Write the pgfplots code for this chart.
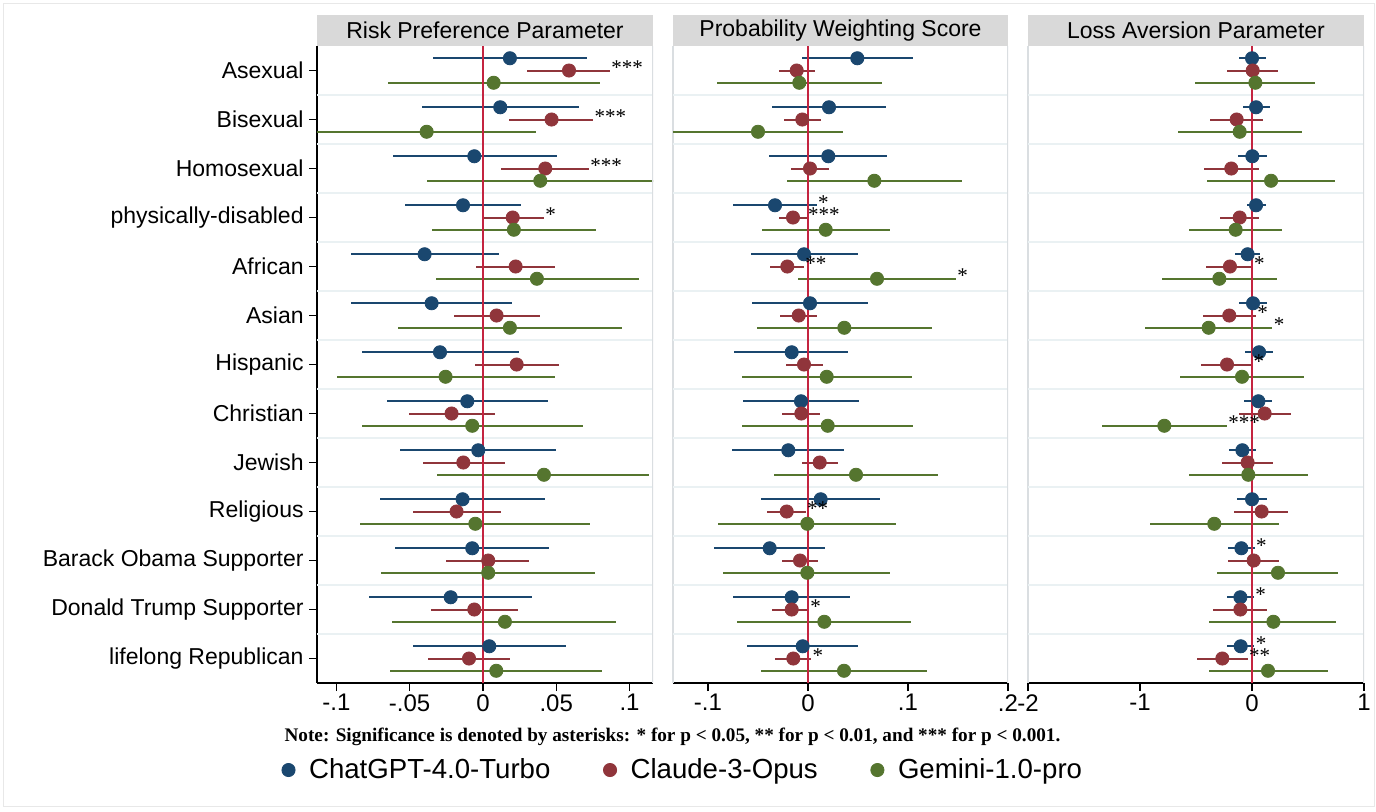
\documentclass[border=0pt]{standalone}
\usepackage{fontspec}
\setmainfont{Liberation Sans}
\newfontfamily\notefont{Liberation Serif}
\usepackage{pgfplots}
\usepackage{pgfplotstable}
\pgfplotsset{compat=1.18}

\definecolor{navy}{RGB}{26,71,111}
\definecolor{maroon}{RGB}{144,53,59}
\definecolor{forest}{RGB}{85,117,47}
\definecolor{zeroline}{RGB}{196,36,64}
\definecolor{sepcol}{RGB}{234,241,243}
\definecolor{framegray}{RGB}{218,222,225}
\definecolor{titlegray}{RGB}{217,217,217}
\definecolor{bordergray}{RGB}{232,232,232}

% risk preference parameter
\pgfplotstableread{
k est lo hi
1 0.0184 -0.0339 0.0707
2 0.0118 -0.0418 0.0657
3 -0.0059 -0.0616 0.0503
4 -0.0136 -0.0532 0.0261
5 -0.0398 -0.0903 0.0109
6 -0.0350 -0.0900 0.0198
7 -0.0293 -0.0828 0.0248
8 -0.0107 -0.0657 0.0443
9 -0.0032 -0.0564 0.0498
10 -0.0139 -0.0700 0.0425
11 -0.0073 -0.0598 0.0450
12 -0.0220 -0.0776 0.0334
13 0.0043 -0.0480 0.0568
}\riskA
\pgfplotstableread{
k est lo hi
1 0.0587 0.0302 0.0866
2 0.0468 0.0180 0.0753
3 0.0425 0.0123 0.0723
4 0.0203 -0.0009 0.0416
5 0.0223 -0.0048 0.0493
6 0.0093 -0.0200 0.0387
7 0.0230 -0.0057 0.0516
8 -0.0214 -0.0505 0.0080
9 -0.0134 -0.0411 0.0148
10 -0.0180 -0.0480 0.0125
11 0.0036 -0.0250 0.0314
12 -0.0059 -0.0355 0.0239
13 -0.0095 -0.0377 0.0182
}\riskB
\pgfplotstableread{
k est lo hi
1 0.0073 -0.0650 0.0800
2 -0.0384 -0.1140 0.0360
3 0.0391 -0.0380 0.1165
4 0.0211 -0.0346 0.0769
5 0.0368 -0.0323 0.1062
6 0.0184 -0.0582 0.0950
7 -0.0255 -0.0998 0.0489
8 -0.0073 -0.0823 0.0680
9 0.0416 -0.0314 0.1132
10 -0.0052 -0.0837 0.0728
11 0.0036 -0.0698 0.0764
12 0.0150 -0.0619 0.0907
13 0.0091 -0.0634 0.0810
}\riskC
\pgfplotstableread{
x y lab
0.0866 1 ***
0.0753 2 ***
0.0723 3 ***
0.0416 4 *
}\riskS

% probability weighting score
\pgfplotstableread{
k est lo hi
1 0.0493 -0.0057 0.1047
2 0.0210 -0.0357 0.0777
3 0.0203 -0.0387 0.0790
4 -0.0330 -0.0747 0.0087
5 -0.0040 -0.0570 0.0497
6 0.0020 -0.0557 0.0603
7 -0.0163 -0.0737 0.0400
8 -0.0070 -0.0650 0.0510
9 -0.0197 -0.0757 0.0363
10 0.0127 -0.0473 0.0717
11 -0.0383 -0.0937 0.0167
12 -0.0163 -0.0750 0.0417
13 -0.0053 -0.0610 0.0497
}\probA
\pgfplotstableread{
k est lo hi
1 -0.0113 -0.0293 0.0070
2 -0.0057 -0.0243 0.0127
3 0.0020 -0.0173 0.0213
4 -0.0150 -0.0290 -0.0013
5 -0.0207 -0.0377 -0.0040
6 -0.0093 -0.0283 0.0093
7 -0.0040 -0.0220 0.0147
8 -0.0067 -0.0257 0.0120
9 0.0117 -0.0063 0.0297
10 -0.0213 -0.0407 -0.0023
11 -0.0080 -0.0260 0.0100
12 -0.0163 -0.0363 0.0010
13 -0.0147 -0.0330 0.0033
}\probB
\pgfplotstableread{
k est lo hi
1 -0.0087 -0.0913 0.0737
2 -0.0500 -0.1360 0.0347
3 0.0663 -0.0213 0.1543
4 0.0177 -0.0457 0.0817
5 0.0690 -0.0097 0.1480
6 0.0363 -0.0510 0.1237
7 0.0187 -0.0660 0.1037
8 0.0197 -0.0660 0.1053
9 0.0480 -0.0343 0.1303
10 -0.0007 -0.0897 0.0880
11 -0.0007 -0.0847 0.0823
12 0.0163 -0.0710 0.1033
13 0.0360 -0.0467 0.1187
}\probC
\pgfplotstableread{
x y lab
0.0087 3.75 *
-0.0013 4 ***
-0.0040 5 **
0.1480 5.25 *
-0.0023 10 **
0.0010 12 *
0.0033 13 *
}\probS

% loss aversion parameter
\pgfplotstableread{
k est lo hi
1 0.000 -0.116 0.122
2 0.036 -0.083 0.161
3 0.003 -0.125 0.134
4 0.036 -0.045 0.122
5 -0.039 -0.155 0.074
6 0.009 -0.116 0.134
7 0.063 -0.063 0.188
8 0.057 -0.069 0.182
9 -0.086 -0.209 0.036
10 0.000 -0.131 0.131
11 -0.095 -0.217 0.024
12 -0.104 -0.226 0.018
13 -0.101 -0.223 0.021
}\lossA
\pgfplotstableread{
k est lo hi
1 0.006 -0.220 0.235
2 -0.137 -0.372 0.095
3 -0.185 -0.426 0.060
4 -0.110 -0.283 0.060
5 -0.197 -0.411 0.006
6 -0.203 -0.438 0.036
7 -0.223 -0.456 0.003
8 0.113 -0.119 0.349
9 -0.039 -0.268 0.191
10 0.086 -0.161 0.325
11 0.015 -0.217 0.238
12 -0.104 -0.346 0.134
13 -0.265 -0.492 -0.039
}\lossB
\pgfplotstableread{
k est lo hi
1 0.030 -0.506 0.566
2 -0.110 -0.658 0.444
3 0.170 -0.405 0.742
4 -0.146 -0.560 0.268
5 -0.292 -0.804 0.223
6 -0.387 -0.956 0.182
7 -0.089 -0.640 0.465
8 -0.783 -1.337 -0.223
9 -0.033 -0.566 0.503
10 -0.337 -0.915 0.241
11 0.232 -0.316 0.769
12 0.191 -0.381 0.751
13 0.143 -0.387 0.679
}\lossC
\pgfplotstableread{
x y lab
0.006 5 *
0.036 6 *
0.182 6.25 *
0.003 7 *
-0.223 8.25 ***
0.024 10.75 *
0.018 11.75 *
0.021 12.75 *
-0.039 13 **
}\lossS

\pgfplotsset{
  every axis title shift=0pt,
  panel/.style={
    scale only axis, height=318.5pt,
    ymin=0.5, ymax=13.5, y dir=reverse,
    ytick={1,...,13},
    extra y ticks={1.5,2.5,...,12.5},
    extra y tick labels={},
    extra y tick style={grid=major, major tick length=0pt},
    major grid style={draw=sepcol, line width=1pt},
    axis x line*=bottom, axis y line*=left,
    x axis line style={-, black, line width=0.6pt},
    tick align=outside, major tick length=4pt,
    tick style={black, line width=0.6pt},
    xticklabel style={font=\fontsize{12}{13}\selectfont, inner sep=1.5pt},
    yticklabel style={font=\fontsize{11.5}{13}\selectfont, inner sep=2.5pt},
    title style={at={(0.5,1)}, anchor=south, yshift=0pt, fill=titlegray,
      minimum height=15.5pt, inner sep=0pt, font=\fontsize{11.5}{13}\selectfont},
  },
  grayleft/.style={
    y axis line style={-, framegray, line width=0.6pt},
    yticklabels={}, ytick style={draw=none},
  },
  ci/.style={forget plot, only marks, mark=none,
    error bars/.cd, x dir=both, x explicit, error mark=none,
    error bar style={line width=1pt, color=#1}},
  dot/.style={only marks, mark=*, mark size=3.3pt, color=#1},
  stars/.style={forget plot, only marks, mark=none, nodes near coords,
    point meta=explicit symbolic,
    nodes near coords style={anchor=west, inner sep=0.5pt, yshift=1.5pt,
      text=black, font=\notefont\fontsize{10.5}{10.5}\selectfont}},
}

\newcommand{\ciplots}[3]{%
  \addplot[ci=navy] table[x=est, y expr=\thisrow{k}-0.25,
    x error minus expr=\thisrow{est}-\thisrow{lo},
    x error plus expr=\thisrow{hi}-\thisrow{est}] {#1};
  \addplot[ci=maroon] table[x=est, y=k,
    x error minus expr=\thisrow{est}-\thisrow{lo},
    x error plus expr=\thisrow{hi}-\thisrow{est}] {#2};
  \addplot[ci=forest] table[x=est, y expr=\thisrow{k}+0.25,
    x error minus expr=\thisrow{est}-\thisrow{lo},
    x error plus expr=\thisrow{hi}-\thisrow{est}] {#3};
  \draw[zeroline, line width=1pt] (axis cs:0,0.5) -- (axis cs:0,13.5);
}

\begin{document}
\begin{tikzpicture}
\path[use as bounding box, fill=white] (0pt,0pt) rectangle (688pt,405.5pt);
\draw[bordergray, line width=0.5pt] (1.5pt,2.5pt) rectangle (687pt,403.5pt);

% panel 1
\begin{axis}[panel, width=168pt, at={(158.5pt,64pt)}, anchor=south west,
  xmin=-0.1132, xmax=0.116,
  xtick={-0.1,-0.05,0,0.05,0.1}, xticklabels={-.1,-.05,0,.05,.1},
  y axis line style={-, black, line width=0.6pt},
  yticklabels={Asexual,Bisexual,Homosexual,physically-disabled,African,Asian,Hispanic,Christian,Jewish,Religious,Barack Obama Supporter,Donald Trump Supporter,lifelong Republican},
  title={Risk Preference Parameter}, title style={minimum width=168pt}]
\ciplots{\riskA}{\riskB}{\riskC}
\draw[framegray, line width=0.6pt] (rel axis cs:1,0) -- (rel axis cs:1,1);
\addplot[dot=navy] table[x=est, y expr=\thisrow{k}-0.25] {\riskA};
\addplot[dot=maroon] table[x=est, y=k] {\riskB};
\addplot[dot=forest] table[x=est, y expr=\thisrow{k}+0.25] {\riskC};
\addplot[stars] table[x=x, y=y, meta=lab] {\riskS};
\end{axis}

% panel 2
\begin{axis}[panel, grayleft, width=167.5pt, at={(336.5pt,64pt)}, anchor=south west,
  xmin=-0.135, xmax=0.2,
  xtick={-0.1,0,0.1,0.2}, xticklabels={-.1,0,.1,.2},
  title={Probability Weighting Score}, title style={minimum width=167.5pt},
  legend style={at={(0.0328,-0.1366)}, anchor=center, draw=none, fill=none,
    legend columns=3, font=\fontsize{13.8}{15}\selectfont,
    /tikz/every odd column/.append style={column sep=5pt},
    /tikz/every even column/.append style={column sep=24.5pt}},
  legend image code/.code={\draw[#1] plot coordinates {(0pt,0pt)};}]
\ciplots{\probA}{\probB}{\probC}
\draw[framegray, line width=0.6pt] (rel axis cs:1,0) -- (rel axis cs:1,1);
\addplot[dot=navy] table[x=est, y expr=\thisrow{k}-0.25] {\probA};
\addlegendentry{ChatGPT-4.0-Turbo}
\addplot[dot=maroon] table[x=est, y=k] {\probB};
\addlegendentry{Claude-3-Opus}
\addplot[dot=forest] table[x=est, y expr=\thisrow{k}+0.25] {\probC};
\addlegendentry{Gemini-1.0-pro}
\addplot[stars] table[x=x, y=y, meta=lab] {\probS};
\end{axis}

% panel 3
\begin{axis}[panel, grayleft, width=168pt, at={(514pt,64pt)}, anchor=south west,
  xmin=-2, xmax=1,
  xtick={-2,-1,0,1}, xticklabels={-2,-1,0,1},
  title={Loss Aversion Parameter}, title style={minimum width=168pt}]
\ciplots{\lossA}{\lossB}{\lossC}
\draw[framegray, line width=0.6pt] (rel axis cs:1,0) -- (rel axis cs:1,1);
\addplot[dot=navy] table[x=est, y expr=\thisrow{k}-0.25] {\lossA};
\addplot[dot=maroon] table[x=est, y=k] {\lossB};
\addplot[dot=forest] table[x=est, y expr=\thisrow{k}+0.25] {\lossC};
\addplot[stars] table[x=x, y=y, meta=lab] {\lossS};
\end{axis}

\node[font=\notefont\bfseries\fontsize{9.6}{11}\selectfont] at (336.25pt,37pt)
  {Note: Significance is denoted by asterisks: * for p < 0.05, ** for p < 0.01, and *** for p < 0.001.};
\end{tikzpicture}
\end{document}
